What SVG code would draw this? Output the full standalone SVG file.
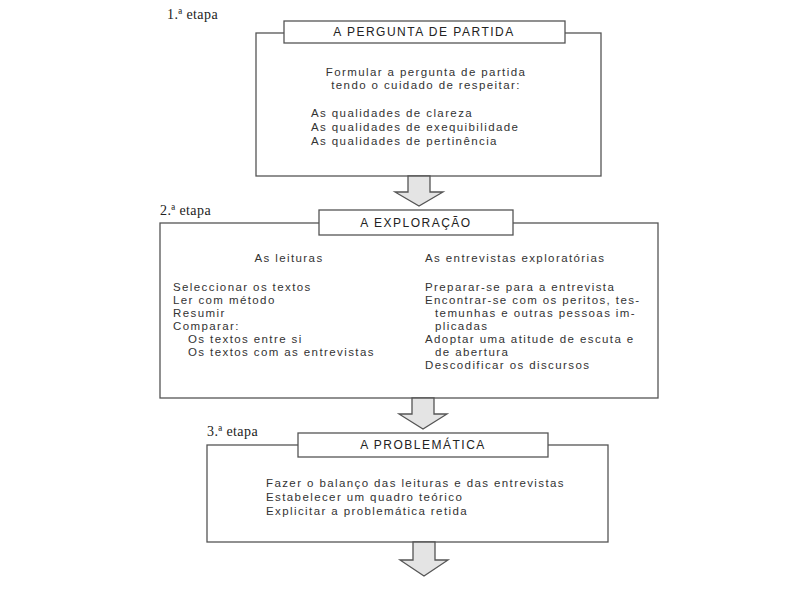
<svg xmlns="http://www.w3.org/2000/svg" width="800" height="600" viewBox="0 0 800 600">
<style>
.f{fill:none;stroke:#555;stroke-width:1.3}
.tb{fill:#fff;stroke:#555;stroke-width:1.3}
.t{font-family:"Liberation Sans",Arial,sans-serif;font-size:11.5px;letter-spacing:1.4px;fill:#333}
.h{font-family:"Liberation Sans",Arial,sans-serif;font-size:12px;letter-spacing:1.5px;fill:#222}
.e{font-family:"Liberation Serif","Times New Roman",serif;font-size:14px;letter-spacing:0.4px;fill:#222}
.ar{fill:#e4e4e4;stroke:#555;stroke-width:1.3}
</style>
<rect width="800" height="600" fill="#fff"/>
<g id="stage1">
<text class="e" x="167" y="19">1.ª etapa</text>
<rect class="f" x="256" y="33" width="345" height="143"/>
<rect class="tb" x="284" y="21" width="281" height="22"/>
<text class="h" x="424" y="36" text-anchor="middle">A PERGUNTA DE PARTIDA</text>
<text class="t" x="426" y="76" text-anchor="middle">Formular a pergunta de partida</text>
<text class="t" x="426" y="89" text-anchor="middle">tendo o cuidado de respeitar:</text>
<text class="t" x="311" y="117">As qualidades de clareza</text>
<text class="t" x="311" y="131">As qualidades de exequibilidade</text>
<text class="t" x="311" y="145">As qualidades de pertinência</text>
</g>
<g id="stage2">
<text class="e" x="160" y="215">2.ª etapa</text>
<rect class="f" x="160" y="223" width="498" height="175"/>
<rect class="tb" x="319" y="210" width="194" height="25"/>
<text class="h" x="416" y="227" text-anchor="middle">A EXPLORAÇÃO</text>
<text class="t" x="289" y="262" text-anchor="middle">As leituras</text>
<text class="t" x="173" y="291">Seleccionar os textos</text>
<text class="t" x="173" y="304">Ler com método</text>
<text class="t" x="173" y="317">Resumir</text>
<text class="t" x="173" y="330">Comparar:</text>
<text class="t" x="188" y="343">Os textos entre si</text>
<text class="t" x="188" y="356">Os textos com as entrevistas</text>
<text class="t" x="425" y="262">As entrevistas exploratórias</text>
<text class="t" x="425" y="291">Preparar-se para a entrevista</text>
<text class="t" x="425" y="304">Encontrar-se com os peritos, tes-</text>
<text class="t" x="435" y="317">temunhas e outras pessoas im-</text>
<text class="t" x="435" y="330">plicadas</text>
<text class="t" x="425" y="343">Adoptar uma atitude de escuta e</text>
<text class="t" x="435" y="356">de abertura</text>
<text class="t" x="425" y="369">Descodificar os discursos</text>
</g>
<g id="stage3">
<text class="e" x="207" y="436">3.ª etapa</text>
<rect class="f" x="207" y="445" width="401" height="97"/>
<rect class="tb" x="298" y="433" width="250" height="24"/>
<text class="h" x="423" y="449" text-anchor="middle">A PROBLEMÁTICA</text>
<text class="t" x="266" y="487">Fazer o balanço das leituras e das entrevistas</text>
<text class="t" x="266" y="501">Estabelecer um quadro teórico</text>
<text class="t" x="266" y="515">Explicitar a problemática retida</text>
</g>
<g id="connectors">
<polygon class="ar" points="408,176 430,176 430,192 443,192 419,206 395,192 408,192"/>
<polygon class="ar" points="412,398 434,398 434,414 447,414 423,429 399,414 412,414"/>
<polygon class="ar" points="413,542 435,542 435,560 448,560 424,576 400,560 413,560"/>
</g>
</svg>
